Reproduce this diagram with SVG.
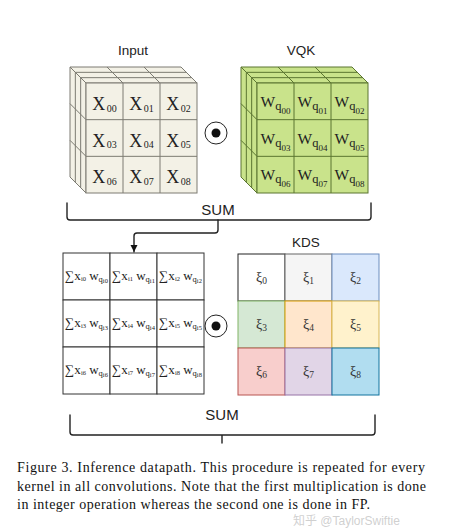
<svg xmlns="http://www.w3.org/2000/svg" width="452" height="530" viewBox="0 0 452 530">
<style>
.lbl{font-family:"Liberation Sans",Arial,sans-serif;font-size:13.5px;fill:#222;text-anchor:middle}
.sum{font-family:"Liberation Sans",Arial,sans-serif;font-size:15px;fill:#222;text-anchor:middle}
.inF{fill:#f3f1e6;stroke:#7c7b72;stroke-width:1}
.inL{fill:none;stroke:#7c7b72;stroke-width:1}
.vqF{fill:#c9e38b;stroke:#5b7531;stroke-width:1}
.vqL{fill:none;stroke:#5b7531;stroke-width:1}
.ser{font-family:"Liberation Serif","Times New Roman",serif;fill:#222;text-anchor:middle}
.X{font-size:18px}
.Xs{font-size:10px}
.W{font-size:15.5px}
.Wq{font-size:12.5px}
.Ws{font-size:9px}
.S{font-size:13px}
.Ss{font-size:6.5px}
.Sq{font-size:8.5px}
.xi{font-size:14px;fill:#333}
.xis{font-size:9.5px}
.cell{fill:#fff;stroke:#333;stroke-width:1}
.br{fill:none;stroke:#222;stroke-width:1.4;stroke-linecap:round}
.odot{fill:#fff;stroke:#222;stroke-width:1}
.cap{font-family:"Liberation Serif","Times New Roman",serif;font-size:14px;fill:#111}
</style>
<defs>
<marker id="arr" markerWidth="8" markerHeight="8" refX="7" refY="4" orient="auto" markerUnits="userSpaceOnUse">
<path d="M0,0.5 L7,4 L0,7.5 Z" fill="#111"/>
</marker>
</defs>

<g id="input">
<text class="lbl" x="133" y="55">Input</text>
<polygon class="inF" points="86,83 197,83 181,67 70,67"/>
<polygon class="inF" points="86,83 86,193 70,177 70,67"/>
<path class="inL" d="M80.67,77.67H191.67M75.33,72.33H186.33M123,83L107,67M160,83L144,67M80.67,77.67V187.67M75.33,72.33V182.33M86,119.67L70,103.67M86,156.33L70,140.33"/>
<rect class="inF" x="86" y="83" width="111" height="110"/>
<path class="inL" d="M123,83V193M160,83V193M86,119.67H197M86,156.33H197"/>
<text class="ser X" x="104.5" y="110">X<tspan class="Xs" dx="1.5" dy="1.5">00</tspan></text>
<text class="ser X" x="141.5" y="110">X<tspan class="Xs" dx="1.5" dy="1.5">01</tspan></text>
<text class="ser X" x="178.5" y="110">X<tspan class="Xs" dx="1.5" dy="1.5">02</tspan></text>
<text class="ser X" x="104.5" y="146.7">X<tspan class="Xs" dx="1.5" dy="1.5">03</tspan></text>
<text class="ser X" x="141.5" y="146.7">X<tspan class="Xs" dx="1.5" dy="1.5">04</tspan></text>
<text class="ser X" x="178.5" y="146.7">X<tspan class="Xs" dx="1.5" dy="1.5">05</tspan></text>
<text class="ser X" x="104.5" y="183.3">X<tspan class="Xs" dx="1.5" dy="1.5">06</tspan></text>
<text class="ser X" x="141.5" y="183.3">X<tspan class="Xs" dx="1.5" dy="1.5">07</tspan></text>
<text class="ser X" x="178.5" y="183.3">X<tspan class="Xs" dx="1.5" dy="1.5">08</tspan></text>
</g>

<g id="op1">
<circle class="odot" cx="216" cy="133" r="11"/>
<circle cx="216" cy="133" r="4.5" fill="#111"/>
</g>

<g id="vqk">
<text class="lbl" x="301" y="55">VQK</text>
<polygon class="vqF" points="257,83 368,83 352,67 241,67"/>
<polygon class="vqF" points="257,83 257,193 241,177 241,67"/>
<path class="vqL" d="M251.67,77.67H362.67M246.33,72.33H357.33M294,83L278,67M331,83L315,67M251.67,77.67V187.67M246.33,72.33V182.33M257,119.67L241,103.67M257,156.33L241,140.33"/>
<rect class="vqF" x="257" y="83" width="111" height="110"/>
<path class="vqL" d="M294,83V193M331,83V193M257,119.67H368M257,156.33H368"/>
<text class="ser W" x="275.5" y="107">W<tspan class="Wq" dy="3">q</tspan><tspan class="Ws" dy="4">00</tspan></text>
<text class="ser W" x="312.5" y="107">W<tspan class="Wq" dy="3">q</tspan><tspan class="Ws" dy="4">01</tspan></text>
<text class="ser W" x="349.5" y="107">W<tspan class="Wq" dy="3">q</tspan><tspan class="Ws" dy="4">02</tspan></text>
<text class="ser W" x="275.5" y="143.7">W<tspan class="Wq" dy="3">q</tspan><tspan class="Ws" dy="4">03</tspan></text>
<text class="ser W" x="312.5" y="143.7">W<tspan class="Wq" dy="3">q</tspan><tspan class="Ws" dy="4">04</tspan></text>
<text class="ser W" x="349.5" y="143.7">W<tspan class="Wq" dy="3">q</tspan><tspan class="Ws" dy="4">05</tspan></text>
<text class="ser W" x="275.5" y="180.3">W<tspan class="Wq" dy="3">q</tspan><tspan class="Ws" dy="4">06</tspan></text>
<text class="ser W" x="312.5" y="180.3">W<tspan class="Wq" dy="3">q</tspan><tspan class="Ws" dy="4">07</tspan></text>
<text class="ser W" x="349.5" y="180.3">W<tspan class="Wq" dy="3">q</tspan><tspan class="Ws" dy="4">08</tspan></text>
</g>

<g id="sum1">
<path class="br" d="M67,203V217Q67,220 70,220H368Q371,220 371,217V203"/>
<text class="sum" x="218" y="215">SUM</text>
</g>

<g id="connectors">
<path class="br" d="M218,220V230Q218,233 215,233H137Q134,233 134,236V252" marker-end="url(#arr)"/>
</g>

<g id="partial">
<rect class="cell" x="63" y="253" width="47" height="47"/>
<rect class="cell" x="110" y="253" width="47" height="47"/>
<rect class="cell" x="157" y="253" width="47" height="47"/>
<rect class="cell" x="63" y="300" width="47" height="47"/>
<rect class="cell" x="110" y="300" width="47" height="47"/>
<rect class="cell" x="157" y="300" width="47" height="47"/>
<rect class="cell" x="63" y="347" width="47" height="47"/>
<rect class="cell" x="110" y="347" width="47" height="47"/>
<rect class="cell" x="157" y="347" width="47" height="47"/>
<text class="ser S" x="86.5" y="280">∑x<tspan class="Ss" dy="1">i0</tspan><tspan dy="-1"> w</tspan><tspan class="Sq" dy="1.5">q</tspan><tspan class="Ss" dy="1.5">i0</tspan></text>
<text class="ser S" x="133.5" y="280">∑x<tspan class="Ss" dy="1">i1</tspan><tspan dy="-1"> w</tspan><tspan class="Sq" dy="1.5">q</tspan><tspan class="Ss" dy="1.5">i1</tspan></text>
<text class="ser S" x="180.5" y="280">∑x<tspan class="Ss" dy="1">i2</tspan><tspan dy="-1"> w</tspan><tspan class="Sq" dy="1.5">q</tspan><tspan class="Ss" dy="1.5">i2</tspan></text>
<text class="ser S" x="86.5" y="327">∑x<tspan class="Ss" dy="1">i3</tspan><tspan dy="-1"> w</tspan><tspan class="Sq" dy="1.5">q</tspan><tspan class="Ss" dy="1.5">i3</tspan></text>
<text class="ser S" x="133.5" y="327">∑x<tspan class="Ss" dy="1">i4</tspan><tspan dy="-1"> w</tspan><tspan class="Sq" dy="1.5">q</tspan><tspan class="Ss" dy="1.5">i4</tspan></text>
<text class="ser S" x="180.5" y="327">∑x<tspan class="Ss" dy="1">i5</tspan><tspan dy="-1"> w</tspan><tspan class="Sq" dy="1.5">q</tspan><tspan class="Ss" dy="1.5">i5</tspan></text>
<text class="ser S" x="86.5" y="374">∑x<tspan class="Ss" dy="1">i6</tspan><tspan dy="-1"> w</tspan><tspan class="Sq" dy="1.5">q</tspan><tspan class="Ss" dy="1.5">i6</tspan></text>
<text class="ser S" x="133.5" y="374">∑x<tspan class="Ss" dy="1">i7</tspan><tspan dy="-1"> w</tspan><tspan class="Sq" dy="1.5">q</tspan><tspan class="Ss" dy="1.5">i7</tspan></text>
<text class="ser S" x="180.5" y="374">∑x<tspan class="Ss" dy="1">i8</tspan><tspan dy="-1"> w</tspan><tspan class="Sq" dy="1.5">q</tspan><tspan class="Ss" dy="1.5">i8</tspan></text>
</g>

<g id="op2">
<circle class="odot" cx="216" cy="326" r="11"/>
<circle cx="216" cy="326" r="4.5" fill="#111"/>
</g>

<g id="kds">
<text class="lbl" x="306" y="247">KDS</text>
<rect x="238" y="254" width="47" height="47" fill="#ffffff" stroke="#222"/>
<rect x="285" y="254" width="47" height="47" fill="#f5f5f5" stroke="#666666"/>
<rect x="332" y="254" width="47" height="47" fill="#dae8fc" stroke="#6c8ebf"/>
<rect x="238" y="301" width="47" height="47" fill="#d5e8d4" stroke="#82b366"/>
<rect x="285" y="301" width="47" height="47" fill="#ffe6cc" stroke="#d79b00"/>
<rect x="332" y="301" width="47" height="47" fill="#fff2cc" stroke="#d6b656"/>
<rect x="238" y="348" width="47" height="47" fill="#f8cecc" stroke="#b85450"/>
<rect x="285" y="348" width="47" height="47" fill="#e1d5e7" stroke="#9673a6"/>
<rect x="332" y="348" width="47" height="47" fill="#b1ddf0" stroke="#10739e"/>
<text class="ser xi" x="261.5" y="282">ξ<tspan class="xis" dy="1.5">0</tspan></text>
<text class="ser xi" x="308.5" y="282">ξ<tspan class="xis" dy="1.5">1</tspan></text>
<text class="ser xi" x="355.5" y="282">ξ<tspan class="xis" dy="1.5">2</tspan></text>
<text class="ser xi" x="261.5" y="329">ξ<tspan class="xis" dy="1.5">3</tspan></text>
<text class="ser xi" x="308.5" y="329">ξ<tspan class="xis" dy="1.5">4</tspan></text>
<text class="ser xi" x="355.5" y="329">ξ<tspan class="xis" dy="1.5">5</tspan></text>
<text class="ser xi" x="261.5" y="376">ξ<tspan class="xis" dy="1.5">6</tspan></text>
<text class="ser xi" x="308.5" y="376">ξ<tspan class="xis" dy="1.5">7</tspan></text>
<text class="ser xi" x="355.5" y="376">ξ<tspan class="xis" dy="1.5">8</tspan></text>
</g>

<g id="sum2">
<path class="br" d="M70,415V432Q70,435 73,435H372Q375,435 375,432V415M222,435V443"/>
<text class="sum" x="222" y="420">SUM</text>
</g>

<g id="caption">
<text class="cap" x="17" y="472" textLength="408" lengthAdjust="spacing">Figure 3. Inference datapath. This procedure is repeated for every</text>
<text class="cap" x="17" y="490.5" textLength="409" lengthAdjust="spacing">kernel in all convolutions. Note that the first multiplication is done</text>
<text class="cap" x="17" y="509" textLength="353" lengthAdjust="spacing">in integer operation whereas the second one is done in FP.</text>
<text x="293" y="525" font-family="'Liberation Sans','Noto Sans CJK SC',sans-serif" font-size="12" fill="#c4c4c4" fill-opacity="0.8">知乎 @TaylorSwiftie</text>
</g>
</svg>
